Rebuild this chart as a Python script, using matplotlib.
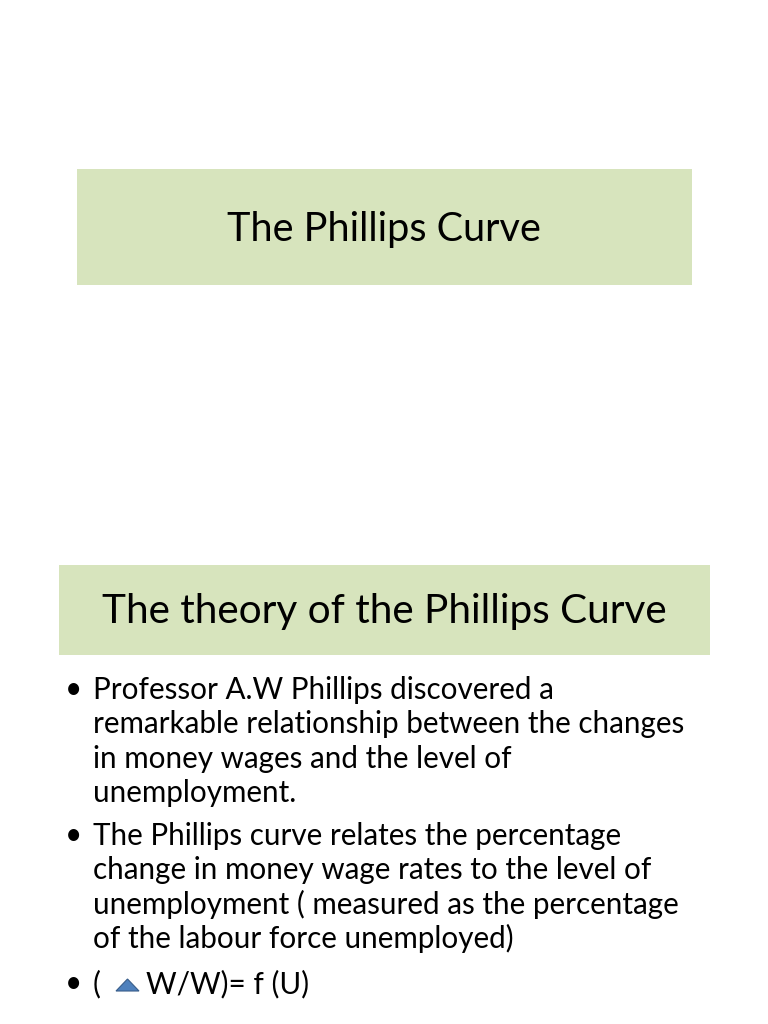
import matplotlib
matplotlib.use("Agg")
import matplotlib.pyplot as plt
from matplotlib.patches import Rectangle, Polygon

title_1 = "The Phillips Curve"
title_2 = "The theory of the Phillips Curve"
bullets = [
    ["Professor A.W Phillips discovered a",
     "remarkable relationship between the changes",
     "in money wages and the level of",
     "unemployment."],
    ["The Phillips curve relates the percentage",
     "change in money wage rates to the level of",
     "unemployment ( measured as the percentage",
     "of the labour force unemployed)"],
]
formula_parts = ["(", "W/W)= f (U)"]

FONT = ["Lato", "DejaVu Sans"]
BOX = "#D7E4BD"
FS = 21.3

fig = plt.figure(figsize=(7.68, 10.24), dpi=100)
ax = fig.add_axes([0, 0, 1, 1])
ax.set_xlim(0, 768)
ax.set_ylim(1024, 0)
ax.axis("off")

ax.add_patch(Rectangle((77, 169), 615, 116, facecolor=BOX, edgecolor="none"))
ax.text(384, 229, title_1, ha="center", va="center", fontsize=28.5, family=FONT, color="black")

ax.add_patch(Rectangle((59, 565), 651, 90, facecolor=BOX, edgecolor="none"))
ax.text(384, 611, title_2, ha="center", va="center", fontsize=29.2, family=FONT, color="black")

line_h = 34.3
y0 = 699
starts = [y0, y0 + 146]
for grp, ys in zip(bullets, starts):
    ax.text(74, ys - 1, "•", ha="center", va="baseline", fontsize=FS, family=FONT)
    for i, ln in enumerate(grp):
        ax.text(93, ys + i * line_h, ln, ha="left", va="baseline", fontsize=FS, family=FONT)

yf = 993
ax.text(74, yf - 1, "•", ha="center", va="baseline", fontsize=FS, family=FONT)
ax.text(93, yf, formula_parts[0], ha="left", va="baseline", fontsize=FS, family=FONT)
ax.add_patch(Polygon([(116, 991), (139, 991), (127.5, 979)], closed=True,
                     facecolor="#4F81BD", edgecolor="#385D8A", linewidth=0.8))
ax.text(146, yf, formula_parts[1], ha="left", va="baseline", fontsize=FS, family=FONT)

fig.savefig("out.png", dpi=100, facecolor="white")
